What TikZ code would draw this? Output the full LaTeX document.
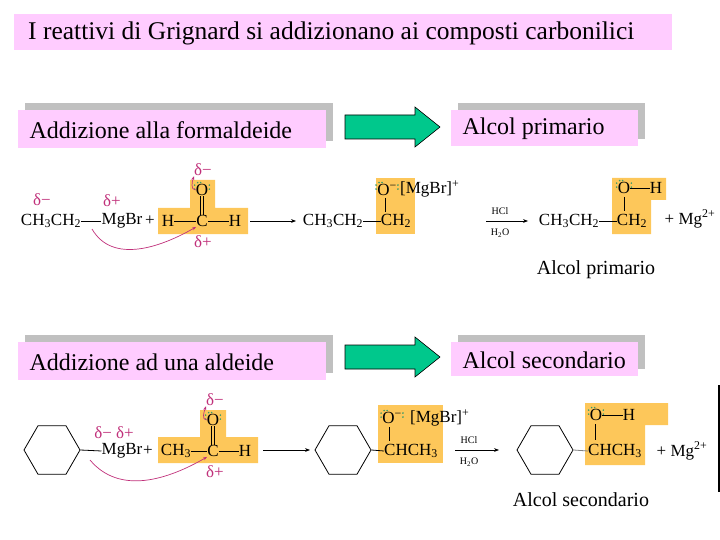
\documentclass[tikz,border=0pt]{standalone}
\usepackage{fontspec}
\setmainfont{Liberation Serif}
\usetikzlibrary{arrows.meta,calc,shapes.geometric}
\definecolor{rosa}{HTML}{FFCCFF}
\definecolor{ombra}{HTML}{C0C0C0}
\definecolor{verde}{HTML}{00C88C}
\definecolor{giallo}{HTML}{FDC75A}
\definecolor{delta}{HTML}{C0307A}
\definecolor{coppia}{HTML}{3A9A6A}
\tikzset{
  titolo/.style = {fill=rosa, anchor=west, inner sep=0pt, font=\fontsize{25.5}{27}\selectfont},
  etich/.style = {anchor=west, font=\fontsize{24}{26}\selectfont},
  chem/.style = {inner sep=0pt, font=\fontsize{17}{19}\selectfont},
  dlt/.style = {chem, text=delta},
  nota/.style = {inner sep=0pt, font=\fontsize{20}{22}\selectfont},
  legame/.style = {line width=0.8pt},
  freccia/.style = {line width=0.6pt, -{Stealth[length=5pt]}},
  curva/.style = {delta, line width=0.7pt, -{Stealth[length=4pt]}},
  esagono/.style = {regular polygon, regular polygon sides=6, draw, line width=0.8pt, minimum size=56pt, inner sep=0pt}
}
\newcommand{\coppie}[1]{%
  \fill[coppia] ($(#1.north west)+(-1,1)$) circle (0.9) ($(#1.north west)+(-1,5)$) circle (0.9)
                ($(#1.north east)+(1,1)$) circle (0.9) ($(#1.north east)+(1,5)$) circle (0.9)
                ($(#1.north west)+(2,-1.5)$) circle (0.9) ($(#1.north west)+(5,-1.5)$) circle (0.9);}
\newcommand{\scatola}[5]{% shadow box with label
  \fill[ombra] (#1+7,#2-7) rectangle (#3+7,#4-7);
  \fill[rosa] (#1,#2) rectangle (#3,#4);
  \node[etich] at (#1+8,{(#2+#4)/2+1}) {#5};}
\newcommand{\frecciona}[1]{%
  \draw[fill=verde, line width=0.6pt] (345,#1-12) -- (415,#1-12) -- (415,#1-20) -- (440,#1)
    -- (415,#1+20) -- (415,#1+12) -- (345,#1+12) -- cycle;}
\begin{document}
\begin{tikzpicture}[x=1pt,y=-1pt]
\useasboundingbox (0,0) rectangle (720,540);
% titolo
\fill[rosa] (14,14) rectangle (672,50);
\node[titolo] at (28,33) {I reattivi di Grignard si addizionano ai composti carbonilici};
% riquadri
\scatola{18}{110}{326}{148}{Addizione alla formaldeide}
\scatola{451}{110}{638}{146}{Alcol primario}
\frecciona{127}
\scatola{18}{342}{326}{380}{Addizione ad una aldeide}
\scatola{451}{342}{638}{376}{Alcol secondario}
\frecciona{357}

% ---- formaldeide
\fill[giallo] (158,208) rectangle (248,234) (190,180) rectangle (215,208);
\node[chem] (r1) at (51,221) {CH\textsubscript{3}CH\textsubscript{2}};
\node[chem] (mg1) at (122,221) {MgBr};
\draw[legame] (r1.east) -- (mg1.west);
\node[chem] at (150,221) {+};
\node[chem] (ha) at (168,221) {H};
\node[chem] (c1) at (202,221) {C};
\node[chem] (hb) at (235,221) {H};
\node[chem] (o1) at (202,190) {O};
\draw[legame] (ha) -- (c1) -- (hb);
\draw[legame] ([xshift=-1.5]c1.north) -- ([xshift=-1.5]o1.south) ([xshift=1.5]c1.north) -- ([xshift=1.5]o1.south);
\coppie{o1}
\node[dlt] (d1) at (203,170) {δ−};
\node[dlt] at (203,242) {δ+};
\node[dlt] at (42,200) {δ−};
\node[dlt] at (112,201) {δ+};
\draw[curva] (o1.west) to[out=180,in=-110] (d1.south west);
\draw[curva] (92,229) to[out=-60,in=-150] (c1.south west);
\coordinate (a1) at (250,221);
\coordinate (a2) at (296,221);
\draw[freccia] (a1) -- (a2);
% intermedio
\fill[giallo] (376,178) rectangle (415,234);
\node[chem] (r2) at (333,221) {CH\textsubscript{3}CH\textsubscript{2}};
\node[chem] (c2) at (396,221) {CH\textsubscript{2}};
\node[chem] (o2) at (387,190) {O\textsuperscript{−}};
\node[chem, anchor=west] at (400,189) {[MgBr]\textsuperscript{+}};
\draw[legame] (r2.east) -- (c2.west);
\draw[line width=0.5pt] (385,198) -- (385,212);
\coppie{o2}
\node[chem, font=\fontsize{10}{11}\selectfont] (hcl1) at (500,211) {HCl};
\node[chem, font=\fontsize{10}{11}\selectfont] (acq1) at (500,233) {H\textsubscript{2}O};
\coordinate (b1) at (486,221);
\coordinate (b2) at (528,221);
\draw[freccia] (b1) -- (b2);
% prodotto
\fill[giallo] (612,178) rectangle (666,200) (612,200) rectangle (651,234);
\node[chem] (r3) at (569,221) {CH\textsubscript{3}CH\textsubscript{2}};
\node[chem] (c3) at (632,221) {CH\textsubscript{2}};
\node[chem] (o3) at (624,188) {O};
\node[chem] (h3) at (656,188) {H};
\draw[legame] (r3.east) -- (c3.west) (o3.east) -- (h3.west);
\draw[line width=0.5pt] (624,197) -- (624,211);
\coppie{o3}
\node[chem] at (690,219) {+ Mg\textsuperscript{2+}};
\node[nota] at (596,270) {Alcol primario};

% ---- aldeide
\node[esagono] (e1) at (52,450) {};
\node[chem] (mg2) at (122,451) {MgBr};
\draw[legame] (e1.east) -- (mg2.west);
\node[dlt] at (114,433) {δ− δ+};
\node[chem] at (148,451) {+};
\fill[giallo] (158,437) rectangle (258,463) (200,410) rectangle (226,437);
\node[chem] (me) at (176,451) {CH\textsubscript{3}};
\node[chem] (c4) at (213,451) {C};
\node[chem] (h4) at (245,451) {H};
\node[chem] (o4) at (213,420) {O};
\draw[legame] (me) -- (c4) -- (h4);
\draw[legame] ([xshift=-1.5]c4.north) -- ([xshift=-1.5]o4.south) ([xshift=1.5]c4.north) -- ([xshift=1.5]o4.south);
\coppie{o4}
\node[dlt] (d4) at (215,400) {δ−};
\node[dlt] at (215,472) {δ+};
\draw[curva] (o4.west) to[out=180,in=-110] (d4.south west);
\draw[curva] (90,460) to[out=-50,in=-150] (c4.south west);
\coordinate (a3) at (263,450);
\coordinate (a4) at (310,450);
\draw[freccia] (a3) -- (a4);
% intermedio
\node[esagono] (e2) at (343,450) {};
\fill[giallo] (378,405) rectangle (443,463);
\node[chem] (c5) at (411,451) {CHCH\textsubscript{3}};
\draw[legame] (e2.east) -- (c5.west);
\node[chem] (o5) at (392,418) {O\textsuperscript{−}};
\node[chem, anchor=west] at (410,418) {[MgBr]\textsuperscript{+}};
\draw[line width=0.5pt] (389,427) -- (389,441);
\coppie{o5}
\node[chem, font=\fontsize{10}{11}\selectfont] (hcl2) at (469,440) {HCl};
\node[chem, font=\fontsize{10}{11}\selectfont] (acq2) at (469,462) {H\textsubscript{2}O};
\coordinate (b3) at (455,450);
\coordinate (b4) at (499,450);
\draw[freccia] (b3) -- (b4);
% prodotto
\node[esagono] (e3) at (545,450) {};
\fill[giallo] (585,403) rectangle (668,425) (585,425) rectangle (645,465);
\node[chem] (c6) at (615,451) {CHCH\textsubscript{3}};
\draw[legame, gray] (e3.east) -- (c6.west);
\node[chem] (o6) at (596,415) {O};
\node[chem] (h6) at (629,415) {H};
\draw[legame] (o6.east) -- (h6.west);
\draw[line width=0.5pt] (595,424) -- (595,440);
\coppie{o6}
\node[chem] at (682,451) {+ Mg\textsuperscript{2+}};
\node[nota] at (581,500) {Alcol secondario};
\draw[line width=1.5pt] (719,385) -- (719,492);
\end{tikzpicture}
\end{document}
